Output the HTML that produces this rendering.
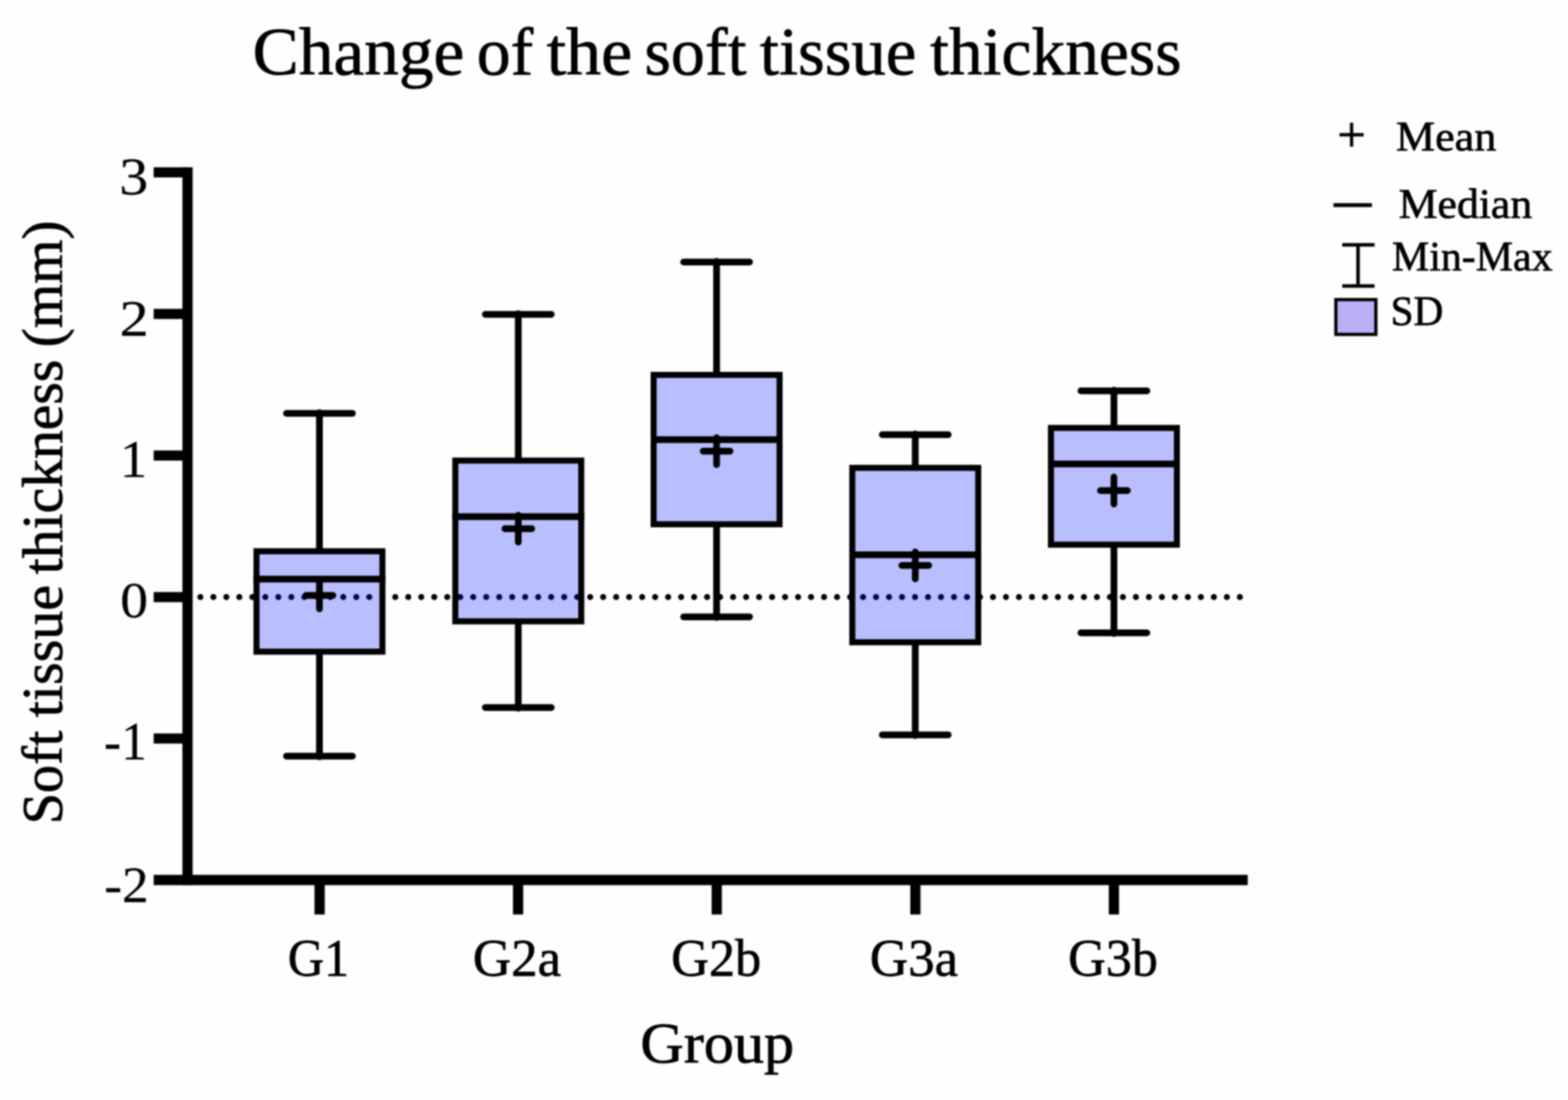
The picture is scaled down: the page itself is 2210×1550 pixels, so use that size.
<!DOCTYPE html>
<html lang="en">
<head>
<meta charset="utf-8">
<title>Change of the soft tissue thickness</title>
<style>
html,body{margin:0;padding:0;background:#fff;}
body{width:2210px;height:1550px;overflow:hidden;}
svg{display:block;}
text{font-family:"Liberation Serif","DejaVu Serif",serif;fill:#000;stroke:#000;stroke-linejoin:round;}
</style>
</head>
<body>
<svg width="2210" height="1550" viewBox="0 0 2210 1550">
<rect x="0" y="0" width="2210" height="1550" fill="#fefefe"/>
<defs><filter id="soft" x="0" y="0" width="2210" height="1550" filterUnits="userSpaceOnUse" color-interpolation-filters="sRGB"><feGaussianBlur stdDeviation="0.9"/></filter></defs>
<g id="chart" filter="url(#soft)">
<rect x="-20" y="-20" width="2250" height="1590" fill="#fefefe"/>
<line x1="282.4" y1="841.25" x2="1748" y2="841.25" stroke="#000" stroke-width="8.6" stroke-linecap="round" stroke-dasharray="0 18.314"/>
<path d="M450.25 581.5V774.5M450.25 920.5V1066.5" stroke="#000" stroke-width="9.5" stroke-linecap="round" fill="none"/>
<path d="M403.65 582.5H496.85M403.65 1065.5H496.85" stroke="#000" stroke-width="9.3" stroke-linecap="round" fill="none"/>
<path d="M730.5 442.0V646.75M730.5 877.75V998.0" stroke="#000" stroke-width="9.5" stroke-linecap="round" fill="none"/>
<path d="M683.9 443.0H777.1M683.9 997.0H777.1" stroke="#000" stroke-width="9.3" stroke-linecap="round" fill="none"/>
<path d="M1010.0 368.25V526.0M1010.0 741.0V870.25" stroke="#000" stroke-width="9.5" stroke-linecap="round" fill="none"/>
<path d="M963.4 369.25H1056.6M963.4 869.25H1056.6" stroke="#000" stroke-width="9.3" stroke-linecap="round" fill="none"/>
<path d="M1290.0 611.5V657.0M1290.0 907.25V1036.5" stroke="#000" stroke-width="9.5" stroke-linecap="round" fill="none"/>
<path d="M1243.4 612.5H1336.6M1243.4 1035.5H1336.6" stroke="#000" stroke-width="9.3" stroke-linecap="round" fill="none"/>
<path d="M1570.0 549.75V600.75M1570.0 769.75V892.75" stroke="#000" stroke-width="9.5" stroke-linecap="round" fill="none"/>
<path d="M1523.4 550.75H1616.6M1523.4 891.75H1616.6" stroke="#000" stroke-width="9.3" stroke-linecap="round" fill="none"/>
<rect x="361.5" y="776.75" width="177.5" height="141.5" fill="rgba(0,22,255,0.27)" stroke="#000" stroke-width="8.5"/>
<line x1="357.25" y1="816.0" x2="543.25" y2="816.0" stroke="#000" stroke-width="9.3"/>
<path d="M431.25 839.0H469.25M450.25 820.0V858.0" stroke="#000" stroke-width="9.4" stroke-linecap="round" fill="none"/>
<rect x="641.75" y="649.0" width="177.5" height="226.5" fill="rgba(0,22,255,0.27)" stroke="#000" stroke-width="8.5"/>
<line x1="637.5" y1="728.0" x2="823.5" y2="728.0" stroke="#000" stroke-width="9.3"/>
<path d="M711.5 745.0H749.5M730.5 726.0V764.0" stroke="#000" stroke-width="9.4" stroke-linecap="round" fill="none"/>
<rect x="921.25" y="528.25" width="177.5" height="210.5" fill="rgba(0,22,255,0.27)" stroke="#000" stroke-width="8.5"/>
<line x1="917.0" y1="619.5" x2="1103.0" y2="619.5" stroke="#000" stroke-width="9.3"/>
<path d="M991.0 635.75H1029.0M1010.0 616.75V654.75" stroke="#000" stroke-width="9.4" stroke-linecap="round" fill="none"/>
<rect x="1201.25" y="659.25" width="177.5" height="245.75" fill="rgba(0,22,255,0.27)" stroke="#000" stroke-width="8.5"/>
<line x1="1197.0" y1="781.75" x2="1383.0" y2="781.75" stroke="#000" stroke-width="9.3"/>
<path d="M1271.0 796.75H1309.0M1290.0 777.75V815.75" stroke="#000" stroke-width="9.4" stroke-linecap="round" fill="none"/>
<rect x="1481.25" y="603.0" width="177.5" height="164.5" fill="rgba(0,22,255,0.27)" stroke="#000" stroke-width="8.5"/>
<line x1="1477.0" y1="653.75" x2="1663.0" y2="653.75" stroke="#000" stroke-width="9.3"/>
<path d="M1551.0 691.25H1589.0M1570.0 672.25V710.25" stroke="#000" stroke-width="9.4" stroke-linecap="round" fill="none"/>
<line x1="264.3" y1="235.8" x2="264.3" y2="1247.2" stroke="#000" stroke-width="14.4"/>
<line x1="216.6" y1="1239.95" x2="1758.6" y2="1239.95" stroke="#000" stroke-width="14.5"/>
<line x1="216.6" y1="242.9" x2="264.3" y2="242.9" stroke="#000" stroke-width="14.2"/>
<line x1="216.6" y1="442.3" x2="264.3" y2="442.3" stroke="#000" stroke-width="14.2"/>
<line x1="216.6" y1="641.8" x2="264.3" y2="641.8" stroke="#000" stroke-width="14.2"/>
<line x1="216.6" y1="841.3" x2="264.3" y2="841.3" stroke="#000" stroke-width="14.2"/>
<line x1="216.6" y1="1040.7" x2="264.3" y2="1040.7" stroke="#000" stroke-width="14.2"/>
<line x1="450.5" y1="1239.95" x2="450.5" y2="1288.6" stroke="#000" stroke-width="14.4"/>
<line x1="730.2" y1="1239.95" x2="730.2" y2="1288.6" stroke="#000" stroke-width="14.4"/>
<line x1="1010.2" y1="1239.95" x2="1010.2" y2="1288.6" stroke="#000" stroke-width="14.4"/>
<line x1="1290.2" y1="1239.95" x2="1290.2" y2="1288.6" stroke="#000" stroke-width="14.4"/>
<line x1="1570" y1="1239.95" x2="1570" y2="1288.6" stroke="#000" stroke-width="14.4"/>
<path d="M1888 189.9H1922M1905 173V206.8" stroke="#000" stroke-width="4.6" fill="none"/>
<path d="M1879.4 289H1933.6" stroke="#000" stroke-width="5.5" fill="none"/>
<path d="M1891.8 345.1H1937.4M1891.8 403H1937.4M1914.1 345.1V404" stroke="#000" stroke-width="5" fill="none"/>
<rect x="1882.8" y="422.2" width="56.4" height="49" fill="#b9b0f6" stroke="#000" stroke-width="4.6"/>
<text id="title" y="104.8" font-size="95" stroke-width="1.0"><tspan x="356.00" textLength="298.34" lengthAdjust="spacingAndGlyphs">Change</tspan> <tspan x="672.10" textLength="79.37" lengthAdjust="spacingAndGlyphs">of</tspan> <tspan x="770.40" textLength="120.73" lengthAdjust="spacingAndGlyphs">the</tspan> <tspan x="908.20" textLength="143.89" lengthAdjust="spacingAndGlyphs">soft</tspan> <tspan x="1071.00" textLength="220.45" lengthAdjust="spacingAndGlyphs">tissue</tspan> <tspan x="1310.90" textLength="354.33" lengthAdjust="spacingAndGlyphs">thickness</tspan></text>
<text id="ylab" transform="translate(86.6 1550) rotate(-90)" y="0" font-size="80" stroke-width="1.0"><tspan x="388.50" textLength="132.01" lengthAdjust="spacingAndGlyphs">Soft</tspan> <tspan x="539.20" textLength="186.85" lengthAdjust="spacingAndGlyphs">tissue</tspan> <tspan x="740.80" textLength="302.26" lengthAdjust="spacingAndGlyphs">thickness</tspan> <tspan x="1060.70" textLength="178.53" lengthAdjust="spacingAndGlyphs">(mm)</tspan></text>
<text id="xlab" x="902.4" y="1496.7" font-size="81" stroke-width="1.0" textLength="216.89" lengthAdjust="spacingAndGlyphs">Group</text>
<text id="x1" x="405.8" y="1375.1" font-size="74" stroke-width="0.9" textLength="86.29" lengthAdjust="spacingAndGlyphs">G1</text>
<text id="x2" x="666.6" y="1375.1" font-size="74" stroke-width="0.9" textLength="124.18" lengthAdjust="spacingAndGlyphs">G2a</text>
<text id="x3" x="946.0" y="1375.1" font-size="74" stroke-width="0.9" textLength="126.8" lengthAdjust="spacingAndGlyphs">G2b</text>
<text id="x4" x="1226.0" y="1375.1" font-size="74" stroke-width="0.9" textLength="124.32" lengthAdjust="spacingAndGlyphs">G3a</text>
<text id="x5" x="1505.6" y="1375.1" font-size="74" stroke-width="0.9" textLength="126.37" lengthAdjust="spacingAndGlyphs">G3b</text>
<text id="y3" x="168.0" y="274.31" font-size="73.1" stroke-width="0.3" textLength="40.85" lengthAdjust="spacingAndGlyphs">3</text>
<text id="y2" x="168.6" y="473.1" font-size="72.55" stroke-width="0.3" textLength="41.09" lengthAdjust="spacingAndGlyphs">2</text>
<text id="y1" x="169.0" y="671.8" font-size="74.28" stroke-width="0.3" textLength="38.53" lengthAdjust="spacingAndGlyphs">1</text>
<text id="y0" x="169.4" y="870.34" font-size="72.89" stroke-width="0.3" textLength="39.15" lengthAdjust="spacingAndGlyphs">0</text>
<text id="ym1" x="146.6" y="1069.9" font-size="75.48" stroke-width="0.3" textLength="60.33" lengthAdjust="spacingAndGlyphs">-1</text>
<text id="ym2" x="147.0" y="1271.2" font-size="72.25" stroke-width="0.3" textLength="62.35" lengthAdjust="spacingAndGlyphs">-2</text>
<text id="l1" x="1967.6" y="211.5" font-size="59" stroke-width="0.9" textLength="141.34" lengthAdjust="spacingAndGlyphs">Mean</text>
<text id="l2" x="1971.2" y="306.6" font-size="59" stroke-width="0.9" textLength="188.37" lengthAdjust="spacingAndGlyphs">Median</text>
<text id="l3" x="1962.0" y="381.0" font-size="59" stroke-width="0.9" textLength="226.2" lengthAdjust="spacingAndGlyphs">Min-Max</text>
<text id="l4" x="1960.0" y="457.8" font-size="59" stroke-width="0.9" textLength="74.37" lengthAdjust="spacingAndGlyphs">SD</text>
</g>
</svg>
</body>
</html>
